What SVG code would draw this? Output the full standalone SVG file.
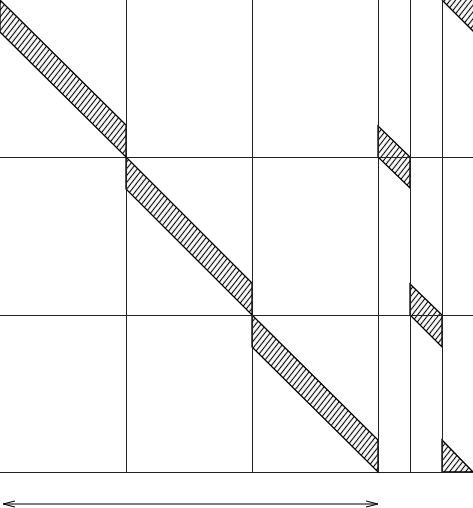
<svg xmlns="http://www.w3.org/2000/svg" width="473" height="508" viewBox="0 0 473 508">
  <defs>
    <pattern id="hatch" patternUnits="userSpaceOnUse" width="4.2" height="10" patternTransform="rotate(38)">
      <line x1="2.1" y1="0" x2="2.1" y2="10" stroke="#000" stroke-width="1.1"/>
    </pattern>
    <marker id="ah" viewBox="0 0 12 8" refX="12" refY="4" markerWidth="12" markerHeight="8" markerUnits="userSpaceOnUse" orient="auto-start-reverse">
      <path d="M0,1 L12,4 L0,7" fill="none" stroke="#000" stroke-width="1.1"/>
    </marker>
  </defs>
  <style>
    .grid { stroke: #222; stroke-width: 1; fill: none; }
    .band { fill: url(#hatch); stroke: #000; stroke-width: 1.3; stroke-linejoin: miter; }
    .edge { stroke: #000; stroke-width: 1.3; fill: none; }
  </style>
  <rect width="473" height="508" fill="#fff"/>
  <g id="bands">
    <polygon class="band" points="0,0 126,125 126,157 0,32"/>
    <polygon class="band" points="126,157 252,283 252,315 126,189"/>
    <polygon class="band" points="252,315 378,440 378,472 252,347"/>
    <polygon class="band" points="378,126 410,157 410,188 378,157"/>
    <polygon class="band" points="410,284 442,315 442,347 410,315"/>
    <polygon fill="url(#hatch)" points="442,0 474,0 474,32"/>
    <line class="edge" x1="442" y1="0" x2="474" y2="32"/>
    <polygon class="band" points="442,440 473,472 442,472"/>
  </g>
  <g id="grid">
    <line class="grid" x1="0" y1="157.5" x2="473" y2="157.5"/>
    <line class="grid" x1="0" y1="315.5" x2="473" y2="315.5"/>
    <line class="grid" x1="0" y1="472.5" x2="473" y2="472.5"/>
    <line class="grid" x1="126.5" y1="0" x2="126.5" y2="472"/>
    <line class="grid" x1="252.5" y1="0" x2="252.5" y2="472"/>
    <line class="grid" x1="378.5" y1="0" x2="378.5" y2="472"/>
    <line class="grid" x1="410.5" y1="0" x2="410.5" y2="472"/>
    <line class="grid" x1="442.5" y1="0" x2="442.5" y2="472"/>
  </g>
  <g id="connectors">
    <line x1="3" y1="504" x2="378" y2="504" stroke="#000" stroke-width="1.1" marker-start="url(#ah)" marker-end="url(#ah)"/>
  </g>
</svg>
